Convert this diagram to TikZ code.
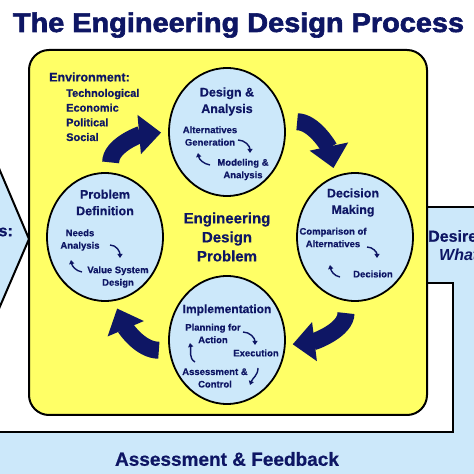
\documentclass[tikz,border=0pt]{standalone}
\usepackage{fontspec}
\setmainfont{Liberation Sans}[BoldFeatures={FakeBold=0.5}]
\newfontfamily\heavyfont{Liberation Sans}[BoldFeatures={FakeBold=2.2}]
\usetikzlibrary{shapes.geometric,arrows.meta}
\definecolor{navy}{RGB}{14,22,100}
\definecolor{paleblue}{RGB}{204,232,250}
\definecolor{lemon}{RGB}{255,255,102}
\begin{document}
\begin{tikzpicture}[x=1pt,y=1pt]

			\tikzstyle{stage}=[ellipse,fill=paleblue,draw=black,line width=1.8pt,
				minimum width=116pt,minimum height=128pt,inner sep=0pt]
			\tikzstyle{stagename}=[text=navy,inner sep=0pt,align=center,
				font=\fontsize{12.5}{16.5}\selectfont\bfseries]
			\tikzstyle{task}=[text=navy,inner sep=0pt,align=center,
				font=\fontsize{9.5}{12.5}\selectfont\bfseries]
			\tikzstyle{bigarrow}=[navy,line width=17pt,
				-{Triangle[length=22pt,width=38pt]}]
			\tikzstyle{loop}=[navy,line width=1.4pt,
				-{Triangle[length=4pt,width=5pt]}]

			\useasboundingbox (0,0) rectangle (474,474);

			% feedback band and outcome box
			\fill[paleblue] (0,0) rectangle (474,42);
			\fill[paleblue] (453,0) rectangle (474,267);
			\fill[paleblue] (427,191) rectangle (474,267);
			\draw[line width=2.5pt] (427,267) -- (476,267);
			\draw[line width=2.5pt] (427,191) -- (453,191) -- (453,42) -- (-2,42);
			\draw[fill=paleblue,line width=2pt] (-2,308) -- (29,235) -- (-2,163);

			\node[text=navy,font=\fontsize{27}{27}\selectfont\heavyfont\bfseries,xscale=1.07,
				anchor=base]	(head)	at (238.5,442) {The Engineering Design Process};

			\node[rounded corners=20pt,fill=lemon,draw=black,line width=2pt,
				minimum width=398pt,minimum height=365pt] (env) at (228,241.5) {};

			\node[text=navy,font=\fontsize{12.5}{15}\selectfont\bfseries,anchor=west,
				inner sep=0pt]	(envname)	at (49,397) {Environment:};
			\node[text=navy,font=\fontsize{11}{14.7}\selectfont\bfseries,anchor=west,
				align=left,inner sep=0pt]	(factors)	at (66,359)
				{Technological\\Economic\\Political\\Social};

			\node[stage]	(design)	at (227,342)	{};
			\node[stage]	(problem)	at (105,237)	{};
			\node[stage]	(decision)	at (355,237)	{};
			\node[stage]	(implement)	at (227,134)	{};

			\node[text=navy,font=\fontsize{15}{19}\selectfont\bfseries,align=center]
				(core)	at (227,237)	{Engineering\\Design\\Problem};

			\draw[bigarrow,shorten <=10pt,shorten >=7pt]
				(problem.85) to[out=90,in=185] (design.west);
			\draw[bigarrow,shorten <=12pt,shorten >=8pt]
				(design.10) to[out=0,in=102] (decision.108);
			\draw[bigarrow,shorten <=12pt,shorten >=7pt]
				(decision.262) to[out=-90,in=7] (implement.-5);
			\draw[bigarrow,shorten <=10pt,shorten >=8pt]
				(implement.190) to[out=180,in=-67] (problem.278);

			% design & analysis
			\node[stagename]	(designname)	at (227,372.5)	{Design \&\\Analysis};
			\node[task]	(altgen)	at (210,338)	{Alternatives\\Generation};
			\node[task]	(modeling)	at (243,304.5)	{Modeling \&\\Analysis};
			\draw[loop] ([shift={(11,-8)}]design.center) to[out=0,in=90]
				([shift={(23,-21)}]design.center);
			\draw[loop] ([shift={(-17,-33)}]design.center) to[out=170,in=-80]
				([shift={(-29,-21)}]design.center);

			% problem definition
			\node[stagename]	(problemname)	at (105,271.5)	{Problem\\Definition};
			\node[task]	(needs)	at (80,234)	{Needs\\Analysis};
			\node[task]	(value)	at (118,197)	{Value System\\Design};
			\draw[loop] ([shift={(5,-8)}]problem.center) to[out=0,in=90]
				([shift={(15,-21)}]problem.center);
			\draw[loop] ([shift={(-23,-35)}]problem.center) to[out=170,in=-80]
				([shift={(-34,-23)}]problem.center);

			% decision making
			\node[stagename]	(decisionname)	at (353,271.5)	{Decision\\Making};
			\node[task]	(compare)	at (333,236.5)	{Comparison of\\Alternatives};
			\node[task]	(decide)	at (373,200)	{Decision};
			\draw[loop] ([shift={(12,-10)}]decision.center) to[out=0,in=90]
				([shift={(22,-21)}]decision.center);
			\draw[loop] ([shift={(-15,-40)}]decision.center) to[out=170,in=-80]
				([shift={(-25,-28)}]decision.center);

			% implementation
			\node[stagename,font=\fontsize{12}{15}\selectfont\bfseries]
				(implementname)	at (227,164)	{Implementation};
			\node[task]	(planning)	at (213,140.5)	{Planning for\\Action};
			\node[task]	(execution)	at (256,121)	{Execution};
			\node[task]	(control)	at (215,96)	{Assessment \&\\Control};
			\draw[loop] ([shift={(16,8)}]implement.center) to[out=0,in=90]
				([shift={(28,-5)}]implement.center);
			\draw[loop] ([shift={(-32,-22)}]implement.center) to[out=150,in=-80]
				([shift={(-37,-3)}]implement.center);
			\draw[loop] ([shift={(31,-28)}]implement.center) to[out=-90,in=70]
				([shift={(23,-45)}]implement.center);

			\node[text=navy,font=\fontsize{19}{19}\selectfont\bfseries]
				(feedback)	at (227,15)	{Assessment \& Feedback};
			\node[text=navy,font=\fontsize{16}{16}\selectfont\bfseries,anchor=west,
				inner sep=0pt]	(desire)	at (428,238)	{Desire};
			\node[text=navy,font=\fontsize{16}{16}\selectfont\bfseries\itshape,anchor=west,
				inner sep=0pt]	(what)	at (439,219)	{What};
			\node[text=navy,font=\fontsize{16}{16}\selectfont\bfseries,anchor=east,
				inner sep=0pt]	(inputs)	at (13,242)	{s:};

			\end{tikzpicture}
\end{document}
